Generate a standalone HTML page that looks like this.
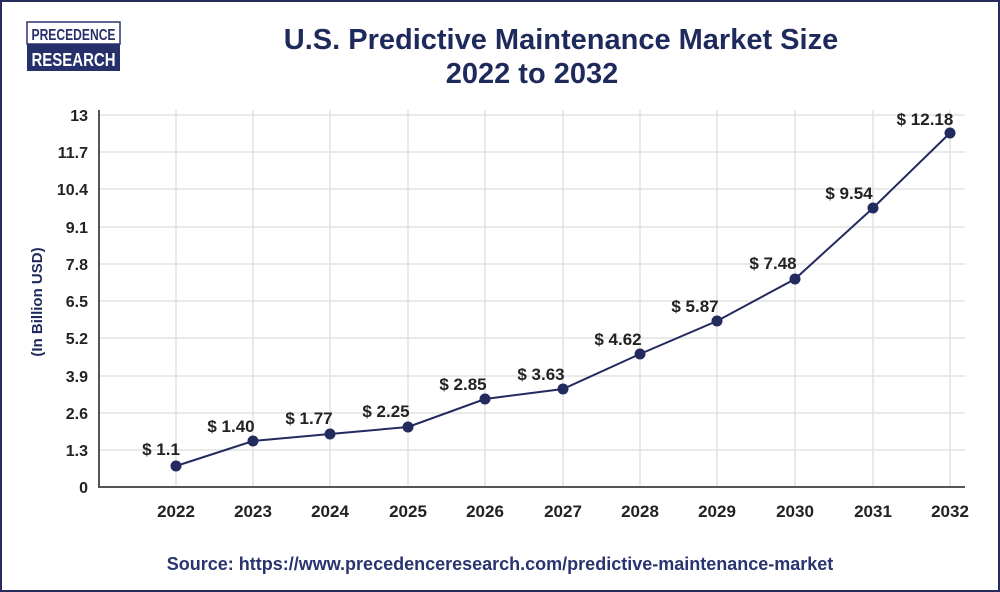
<!DOCTYPE html>
<html><head><meta charset="utf-8"><style>
body{margin:0;background:#fff}
svg{display:block}
text{font-family:"Liberation Sans",sans-serif}
</style></head><body>
<svg width="1000" height="592" viewBox="0 0 1000 592" xmlns="http://www.w3.org/2000/svg">
<rect x="1" y="1" width="998" height="590" fill="#fff" stroke="#262c5c" stroke-width="2"/>
<rect x="27" y="22" width="93" height="22" fill="#fff" stroke="#2a3470" stroke-width="1.5"/>
<rect x="27" y="44" width="93" height="27" fill="#26306a"/>
<text x="73.5" y="40" text-anchor="middle" font-size="16" font-weight="bold" fill="#26306a" textLength="84" lengthAdjust="spacingAndGlyphs">PRECEDENCE</text>
<text x="73.5" y="66" text-anchor="middle" font-size="18" font-weight="bold" fill="#fff" textLength="84" lengthAdjust="spacingAndGlyphs">RESEARCH</text>
<text x="561" y="49" text-anchor="middle" font-size="29" font-weight="bold" fill="#1f2a5c">U.S. Predictive Maintenance Market Size</text>
<text x="532" y="83" text-anchor="middle" font-size="29" font-weight="bold" fill="#1f2a5c">2022 to 2032</text>
<g stroke="#e2e2e2" stroke-width="1.5">
<line x1="100" y1="115" x2="965" y2="115"/><line x1="100" y1="152" x2="965" y2="152"/><line x1="100" y1="189" x2="965" y2="189"/><line x1="100" y1="227" x2="965" y2="227"/><line x1="100" y1="264" x2="965" y2="264"/><line x1="100" y1="301" x2="965" y2="301"/><line x1="100" y1="338" x2="965" y2="338"/><line x1="100" y1="376" x2="965" y2="376"/><line x1="100" y1="413" x2="965" y2="413"/><line x1="100" y1="450" x2="965" y2="450"/>
<line x1="176" y1="110" x2="176" y2="487"/><line x1="253" y1="110" x2="253" y2="487"/><line x1="330" y1="110" x2="330" y2="487"/><line x1="408" y1="110" x2="408" y2="487"/><line x1="485" y1="110" x2="485" y2="487"/><line x1="563" y1="110" x2="563" y2="487"/><line x1="640" y1="110" x2="640" y2="487"/><line x1="717" y1="110" x2="717" y2="487"/><line x1="795" y1="110" x2="795" y2="487"/><line x1="873" y1="110" x2="873" y2="487"/><line x1="950" y1="110" x2="950" y2="487"/>
</g>
<line x1="99" y1="110" x2="99" y2="488" stroke="#555" stroke-width="2"/>
<line x1="98" y1="487" x2="965" y2="487" stroke="#555" stroke-width="2"/>
<g font-size="16" font-weight="bold" fill="#222" text-anchor="end">
<text x="88" y="121">13</text><text x="88" y="158">11.7</text><text x="88" y="195">10.4</text><text x="88" y="233">9.1</text><text x="88" y="270">7.8</text><text x="88" y="307">6.5</text><text x="88" y="344">5.2</text><text x="88" y="382">3.9</text><text x="88" y="419">2.6</text><text x="88" y="456">1.3</text><text x="88" y="493">0</text>
</g>
<text transform="translate(42,302) rotate(-90)" text-anchor="middle" font-size="15" font-weight="bold" fill="#1f2a5c">(In Billion USD)</text>
<g font-size="17" font-weight="bold" fill="#222" text-anchor="middle">
<text x="176" y="517">2022</text><text x="253" y="517">2023</text><text x="330" y="517">2024</text><text x="408" y="517">2025</text><text x="485" y="517">2026</text><text x="563" y="517">2027</text><text x="640" y="517">2028</text><text x="717" y="517">2029</text><text x="795" y="517">2030</text><text x="873" y="517">2031</text><text x="950" y="517">2032</text>
</g>
<polyline fill="none" stroke="#232a5e" stroke-width="2" points="176,466 253,441 330,434 408,427 485,399 563,389 640,354 717,321 795,279 873,208 950,133"/>
<g fill="#232a5e">
<circle cx="176" cy="466" r="5.5"/><circle cx="253" cy="441" r="5.5"/><circle cx="330" cy="434" r="5.5"/><circle cx="408" cy="427" r="5.5"/><circle cx="485" cy="399" r="5.5"/><circle cx="563" cy="389" r="5.5"/><circle cx="640" cy="354" r="5.5"/><circle cx="717" cy="321" r="5.5"/><circle cx="795" cy="279" r="5.5"/><circle cx="873" cy="208" r="5.5"/><circle cx="950" cy="133" r="5.5"/>
</g>
<g font-size="17" font-weight="bold" fill="#222" text-anchor="middle">
<text x="161" y="455">$ 1.1</text><text x="231" y="432">$ 1.40</text><text x="309" y="424">$ 1.77</text><text x="386" y="417">$ 2.25</text><text x="463" y="390">$ 2.85</text><text x="541" y="380">$ 3.63</text><text x="618" y="345">$ 4.62</text><text x="695" y="312">$ 5.87</text><text x="773" y="269">$ 7.48</text><text x="849" y="199">$ 9.54</text><text x="925" y="125">$ 12.18</text>
</g>
<text x="500" y="570" text-anchor="middle" font-size="18" font-weight="bold" fill="#2a3470">Source: https://www.precedenceresearch.com/predictive-maintenance-market</text>
</svg>
</body></html>
